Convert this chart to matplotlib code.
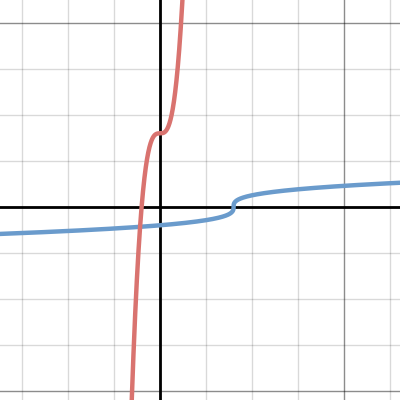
import matplotlib
matplotlib.use('Agg')
import matplotlib.pyplot as plt
import numpy as np

# f(x) = a*x^3 + c and its inverse
a = 25.0
c = 1.6
x_min, x_max = -3.48, 5.22
y_min, y_max = -4.2, 4.5

fig = plt.figure(figsize=(4, 4), dpi=100)
ax = fig.add_axes([0, 0, 1, 1])
ax.set_xlim(x_min, x_max)
ax.set_ylim(y_min, y_max)

for gx in range(-3, 6):
    ax.axvline(gx, color='#000000', alpha=0.45 if gx % 4 == 0 else 0.15, lw=1, zorder=0)
for gy in range(-4, 5):
    ax.axhline(gy, color='#000000', alpha=0.45 if gy % 4 == 0 else 0.15, lw=1, zorder=0)
ax.axhline(0, color='black', lw=2, zorder=1)
ax.axvline(0, color='black', lw=2, zorder=1)

xs = np.linspace(-0.8, 0.8, 800)
ax.plot(xs, a * xs**3 + c, color='#d9736f', lw=3.2, zorder=3)
xb = np.linspace(x_min, x_max, 2000)
ax.plot(xb, np.cbrt((xb - c) / a), color='#6a9bcc', lw=3.2, zorder=2)

ax.set_xticks([])
ax.set_yticks([])
for s in ax.spines.values():
    s.set_visible(False)
fig.savefig('out.png', dpi=100, facecolor='white')
